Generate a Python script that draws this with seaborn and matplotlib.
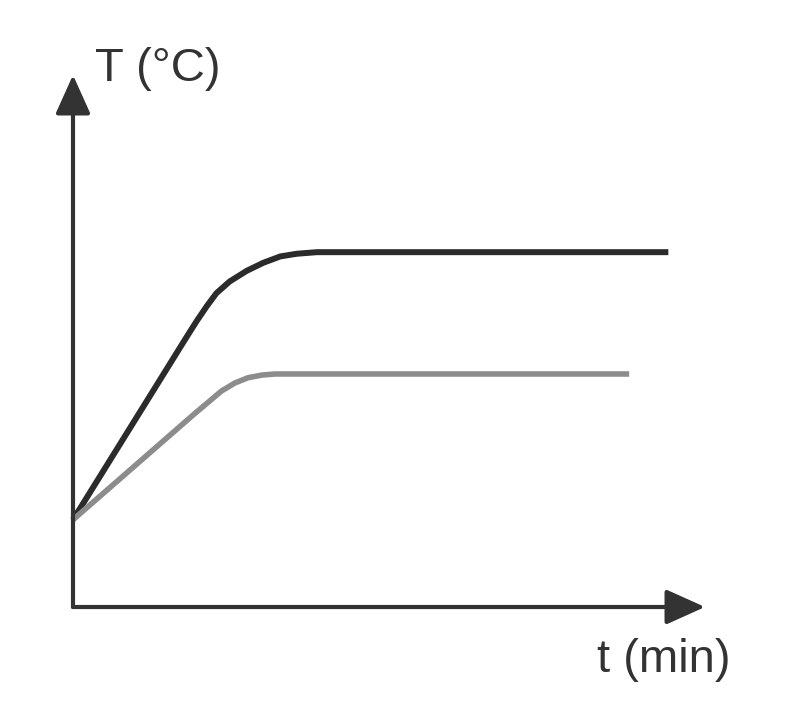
import matplotlib
matplotlib.use("Agg")
import matplotlib.pyplot as plt
import seaborn as sns
import numpy as np

# values (t in min, T in degC, arbitrary units)
t_fast = [0, 1.80, 1.96, 2.12, 2.27, 2.48, 2.75, 3.01, 3.28, 3.54, 3.86, 4.38, 9.42]
T_fast = [16.4, 50.8, 53.8, 56.6, 59.0, 61.2, 63.2, 64.7, 65.9, 66.4, 66.7, 66.7, 66.7]

t_slow = [0, 1.93, 2.14, 2.35, 2.56, 2.77, 2.99, 3.20, 3.51, 8.80]
T_slow = [16.4, 36.4, 38.5, 40.6, 42.1, 43.1, 43.6, 43.8, 43.8, 43.8]

t_axis_end = 10.0
T_axis_end = 100.0

sns.set_style("white")
plt.rcParams['font.family'] = ['Liberation Sans', 'DejaVu Sans']

fig = plt.figure(figsize=(8, 7.2), dpi=100)
ax = fig.add_axes([0, 0, 1, 1])
ax.set_xlim(-1.155, 11.503)
ax.set_ylim(-21.24, 114.1)
ax.axis('off')

sns.lineplot(x=t_fast, y=T_fast, ax=ax, color='#2b2b2b', lw=4.3, sort=False,
             solid_capstyle='butt', solid_joinstyle='round')
sns.lineplot(x=t_slow, y=T_slow, ax=ax, color='#8c8c8c', lw=4.0, sort=False,
             solid_capstyle='butt', solid_joinstyle='round')

arrow = dict(arrowstyle='-|>,head_length=1.0,head_width=0.45', mutation_scale=24,
             lw=3, color='#333333', shrinkA=0, shrinkB=0)
ax.annotate('', xy=(t_axis_end, 0), xytext=(0, 0), arrowprops=arrow)
ax.annotate('', xy=(0, T_axis_end), xytext=(0, 0), arrowprops=arrow)

ax.text(0.35, 98.9, 'T (°C)', fontsize=34, color='#333333', va='baseline', ha='left')
ax.text(8.29, -12.2, 't (min)', fontsize=34, color='#333333', va='baseline', ha='left')

fig.savefig('out.png', dpi=100, facecolor='white')
